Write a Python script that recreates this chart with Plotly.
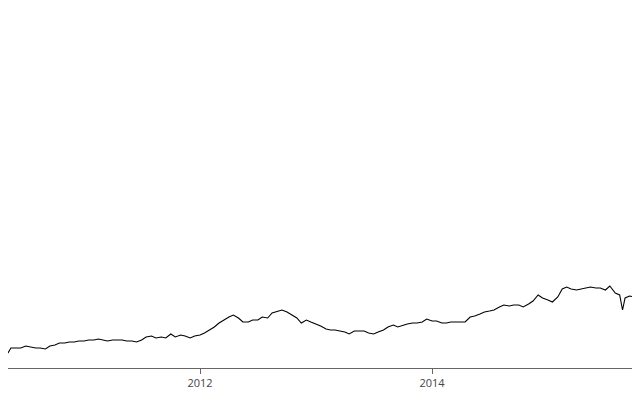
import plotly.graph_objects as go

# daily-ish index level, sampled twice a month (plus the two sharp dips)
dates = [
    '2010-04-01', '2010-04-15', '2010-05-01', '2010-05-06', '2010-05-15', '2010-06-01', '2010-06-15',
    '2010-07-01', '2010-07-15', '2010-08-01', '2010-08-15', '2010-09-01', '2010-09-15', '2010-10-01',
    '2010-10-15', '2010-11-01', '2010-11-15', '2010-12-01', '2010-12-15',
    '2011-01-01', '2011-01-15', '2011-02-01', '2011-02-15', '2011-03-01', '2011-03-15', '2011-04-01',
    '2011-04-15', '2011-05-01', '2011-05-15', '2011-06-01', '2011-06-15', '2011-07-01', '2011-07-15',
    '2011-08-01', '2011-08-15', '2011-09-01', '2011-09-15', '2011-10-01', '2011-10-15', '2011-11-01',
    '2011-11-15', '2011-12-01', '2011-12-15',
    '2012-01-01', '2012-01-15', '2012-02-01', '2012-02-15', '2012-03-01', '2012-03-15', '2012-04-01',
    '2012-04-15', '2012-05-01', '2012-05-15', '2012-06-01', '2012-06-15', '2012-07-01', '2012-07-15',
    '2012-08-01', '2012-08-15', '2012-09-01', '2012-09-15', '2012-10-01', '2012-10-15', '2012-11-01',
    '2012-11-15', '2012-12-01', '2012-12-15',
    '2013-01-01', '2013-01-15', '2013-02-01', '2013-02-15', '2013-03-01', '2013-03-15', '2013-04-01',
    '2013-04-15', '2013-05-01', '2013-05-15', '2013-06-01', '2013-06-15', '2013-07-01', '2013-07-15',
    '2013-08-01', '2013-08-15', '2013-09-01', '2013-09-15', '2013-10-01', '2013-10-15', '2013-11-01',
    '2013-11-15', '2013-12-01', '2013-12-15',
    '2014-01-01', '2014-01-15', '2014-02-01', '2014-02-15', '2014-03-01', '2014-03-15', '2014-04-01',
    '2014-04-15', '2014-05-01', '2014-05-15', '2014-06-01', '2014-06-15', '2014-07-01', '2014-07-15',
    '2014-08-01', '2014-08-15', '2014-09-01', '2014-09-15', '2014-10-01', '2014-10-15', '2014-11-01',
    '2014-11-15', '2014-12-01', '2014-12-15',
    '2015-01-01', '2015-01-15', '2015-02-01', '2015-02-15', '2015-03-01', '2015-03-15', '2015-04-01',
    '2015-04-15', '2015-05-01', '2015-05-15', '2015-06-01', '2015-06-15', '2015-07-01', '2015-07-15',
    '2015-08-01', '2015-08-15', '2015-08-24', '2015-09-01', '2015-09-15', '2015-10-01', '2015-10-15',
    '2015-11-01',
]

level = [
    120, 119, 120, 115, 120, 120, 120, 122, 121, 120, 120, 119, 122, 123, 125, 125, 126, 126, 127,
    127, 128, 128, 129, 128, 127, 128, 128, 128, 127, 127, 126, 128, 131, 132, 130, 131, 130, 134,
    131, 133, 132, 130, 132,
    133, 135, 138, 141, 145, 148, 151, 153, 150, 146, 146, 148, 148, 151, 150, 155, 157, 158, 156,
    153, 150, 145, 148, 146,
    144, 142, 139, 138, 138, 137, 136, 134, 137, 137, 137, 135, 134, 136, 138, 141, 143, 141, 143,
    144, 145, 145, 146, 149,
    147, 147, 145, 145, 146, 146, 146, 146, 151, 152, 154, 156, 157, 158, 161, 163, 162, 163, 163,
    161, 164, 167, 173, 170,
    168, 166, 171, 179, 181, 179, 178, 179, 180, 181, 180, 180, 178, 182, 175, 173, 158, 170, 172,
    171, 170, 171,
]

fig = go.Figure()
fig.add_trace(go.Scatter(x=dates, y=level, mode='lines',
                         line=dict(color='black', width=1.1), hoverinfo='x+y'))

# page body has an 8px margin, so the figure is sized to end at the window edge
fig.update_layout(
    width=632, height=392,
    margin=dict(l=0, r=0, t=0, b=32),
    paper_bgcolor='white', plot_bgcolor='white',
    showlegend=False,
    font=dict(family='Open Sans, Noto Sans, sans-serif', size=11, color='#444'),
)
fig.update_xaxes(
    type='date', range=['2010-05-06', '2015-10-18'],
    tick0='2012-01-01', dtick='M24', tickformat='%Y',
    showgrid=False, zeroline=False,
    showline=True, linecolor='#666', linewidth=1,
    ticks='outside', ticklen=5, tickcolor='#666',
)
fig.update_yaxes(visible=False, range=[100, 460])

fig.write_html('out.html')
